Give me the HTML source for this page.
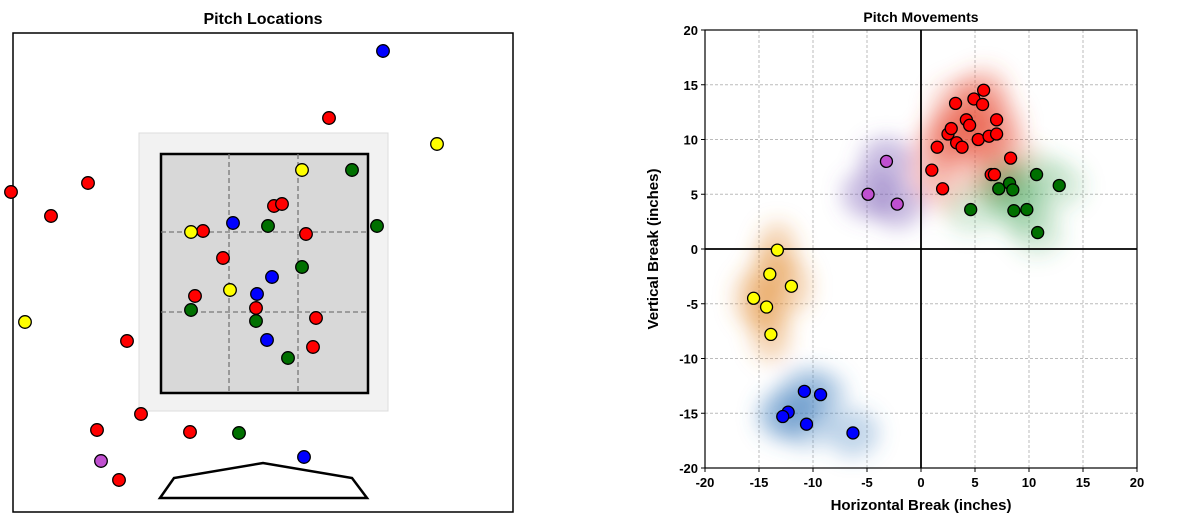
<!DOCTYPE html>
<html><head><meta charset="utf-8"><style>
body{margin:0;background:#fff;width:1200px;height:520px;overflow:hidden}
svg{font-family:"Liberation Sans",sans-serif}
</style></head><body>
<svg id="s" width="1200" height="520" xmlns="http://www.w3.org/2000/svg">
<defs>
<filter id="blur" x="-50%" y="-50%" width="200%" height="200%"><feGaussianBlur stdDeviation="10"/></filter>
</defs>
<g id="left">
<text x="263" y="24" text-anchor="middle" font-size="16" font-weight="bold">Pitch Locations</text>
<rect x="13" y="33" width="500" height="479" fill="#fff" stroke="#000" stroke-width="1.5"/>
<rect x="139" y="133" width="249" height="278" fill="#f2f2f2" stroke="#ddd"/>
<rect x="161" y="154" width="207" height="239" fill="#d8d8d8" stroke="#000" stroke-width="2.5"/>
<g stroke="#777" stroke-dasharray="5,3" stroke-width="1.3">
<line x1="229" y1="154" x2="229" y2="393"/><line x1="298" y1="154" x2="298" y2="393"/>
<line x1="161" y1="232" x2="368" y2="232"/><line x1="161" y1="312" x2="368" y2="312"/>
</g>
<polygon points="160,498 174,478 263,463 352,478 367,498" fill="none" stroke="#000" stroke-width="2.5"/>
<g id="lp"></g>
</g>
<g id="right">
<text x="921" y="22" text-anchor="middle" font-size="14" font-weight="bold">Pitch Movements</text>
<g id="grid"></g>
<g id="kde" filter="url(#blur)"></g>
<g id="axes0"></g>
<g id="rp"></g>
<rect x="705" y="30" width="432" height="438" fill="none" stroke="#000" stroke-width="1.2"/>
<g id="ticks"></g>
<text x="921" y="510" text-anchor="middle" font-size="15" font-weight="bold">Horizontal Break (inches)</text>
<text transform="translate(658,249) rotate(-90)" text-anchor="middle" font-size="15" font-weight="bold">Vertical Break (inches)</text>
</g>
</svg>
<script>
const colors={red:"#f00",blue:"#00f",yellow:"#ff0",green:"#007000",purple:"#c050d0"};
// Left: plate location (ft)
const locRedX=[-2.52,-2.12,-1.75,0.66,0.11,0.19,-0.60,0.43,-0.40,-0.68,-0.07,0.53,0.50,-1.36,-1.22,-1.66,-0.73,-1.44];
const locRedY=[3.20,2.96,3.29,3.94,3.06,3.08,2.81,2.78,2.54,2.16,2.04,1.94,1.65,1.71,0.98,0.82,0.80,0.32];
const locBlueX=[1.20,-0.30,0.09,-0.06,0.04,0.41];
const locBlueY=[4.61,2.89,2.35,2.18,1.72,0.55];
const locYellowX=[1.74,0.39,-0.72,-0.33,-2.38];
const locYellowY=[3.68,3.42,2.80,2.22,1.90];
const locGreenX=[0.89,0.05,1.14,0.39,-0.72,-0.07,0.25,-0.24];
const locGreenY=[3.42,2.86,2.86,2.45,2.02,1.91,1.54,0.79];
const locPurpleX=[-1.62];
const locPurpleY=[0.51];
// Right: movement (inches)
const movRedX=[1.0,1.5,2.0,2.5,2.8,3.2,3.3,3.8,4.2,4.5,4.9,5.3,5.7,5.8,6.3,6.5,6.8,7.0,7.0,8.3];
const movRedY=[7.2,9.3,5.5,10.5,11.0,13.3,9.7,9.3,11.8,11.3,13.7,10.0,13.2,14.5,10.3,6.8,6.8,11.8,10.5,8.3];
const movGreenX=[4.6,7.2,8.2,8.5,8.6,9.8,10.7,10.8,12.8];
const movGreenY=[3.6,5.5,6.0,5.4,3.5,3.6,6.8,1.5,5.8];
const movPurpleX=[-3.2,-4.9,-2.2];
const movPurpleY=[8.0,5.0,4.1];
const movYellowX=[-13.3,-14.0,-12.0,-15.5,-14.3,-13.9];
const movYellowY=[-0.1,-2.3,-3.4,-4.5,-5.3,-7.8];
const movBlueX=[-10.8,-9.3,-12.3,-12.8,-10.6,-6.3];
const movBlueY=[-13.0,-13.3,-14.9,-15.3,-16.0,-16.8];
const tickVals=[-20,-15,-10,-5,0,5,10,15,20];

const NS="http://www.w3.org/2000/svg";
function mk(t,a,p){const e=document.createElementNS(NS,t);for(const k in a)e.setAttribute(k,a[k]);p.appendChild(e);return e;}
const lx=v=>263+v*100, ly=v=>512-v*100;
const rx=v=>705+(v+20)*10.8, ry=v=>468-(v+20)*10.95;
const lp=document.getElementById('lp');
[["red",locRedX,locRedY],["blue",locBlueX,locBlueY],["yellow",locYellowX,locYellowY],["green",locGreenX,locGreenY],["purple",locPurpleX,locPurpleY]].forEach(([c,X,Y])=>{
 X.forEach((x,i)=>{const e=mk('circle',{cx:lx(x),cy:ly(Y[i]),r:6.3,fill:colors[c],stroke:"#000","stroke-width":1.3},lp);
 
 });
});
const grid=document.getElementById('grid'),ticks=document.getElementById('ticks');
tickVals.forEach(v=>{
 if(v>-20&&v<20){
  const g1=mk('line',{x1:rx(v),x2:rx(v),y1:30,y2:468,stroke:"#bbb","stroke-dasharray":"3,2","stroke-width":1},grid);
  
  
  const g2=mk('line',{y1:ry(v),y2:ry(v),x1:705,x2:1137,stroke:"#bbb","stroke-dasharray":"3,2","stroke-width":1},grid);
  
  
 }
 mk('line',{x1:rx(v),x2:rx(v),y1:468,y2:472,stroke:"#000"},ticks);
 mk('line',{y1:ry(v),y2:ry(v),x1:701,x2:705,stroke:"#000"},ticks);
 const tx=mk('text',{x:rx(v),y:487,"text-anchor":"middle","font-size":13,"font-weight":"bold"},ticks);tx.textContent=v;
 
 
 const ty=mk('text',{x:698,y:ry(v)+5,"text-anchor":"end","font-size":13,"font-weight":"bold"},ticks);ty.textContent=v;
 
 
});
const kde=document.getElementById('kde');
const kcol={red:"rgba(230,80,60,0.22)",green:"rgba(60,160,80,0.2)",purple:"rgba(120,90,180,0.4)",yellow:"rgba(225,140,50,0.35)",blue:"rgba(70,130,190,0.33)"};
[["red",movRedX,movRedY],["green",movGreenX,movGreenY],["purple",movPurpleX,movPurpleY],["yellow",movYellowX,movYellowY],["blue",movBlueX,movBlueY]].forEach(([c,X,Y])=>{
 X.forEach((x,i)=>{const k=mk('ellipse',{cx:rx(x),cy:ry(Y[i]),rx:c==="yellow"?20:26,ry:c==="yellow"?28:24,fill:kcol[c]},kde);
 
 });
});
const ax=document.getElementById('axes0');
const a1=mk('line',{x1:rx(0),x2:rx(0),y1:30,y2:468,stroke:"#000","stroke-width":1.8},ax);


const a2=mk('line',{x1:705,x2:1137,y1:ry(0),y2:ry(0),stroke:"#000","stroke-width":1.8},ax);


const rp=document.getElementById('rp');
[["red",movRedX,movRedY],["green",movGreenX,movGreenY],["purple",movPurpleX,movPurpleY],["yellow",movYellowX,movYellowY],["blue",movBlueX,movBlueY]].forEach(([c,X,Y])=>{
 X.forEach((x,i)=>{const e=mk('circle',{cx:rx(x),cy:ry(Y[i]),r:6,fill:colors[c],stroke:"#000","stroke-width":1.3},rp);
 
 });
});
</script>
</body></html>
